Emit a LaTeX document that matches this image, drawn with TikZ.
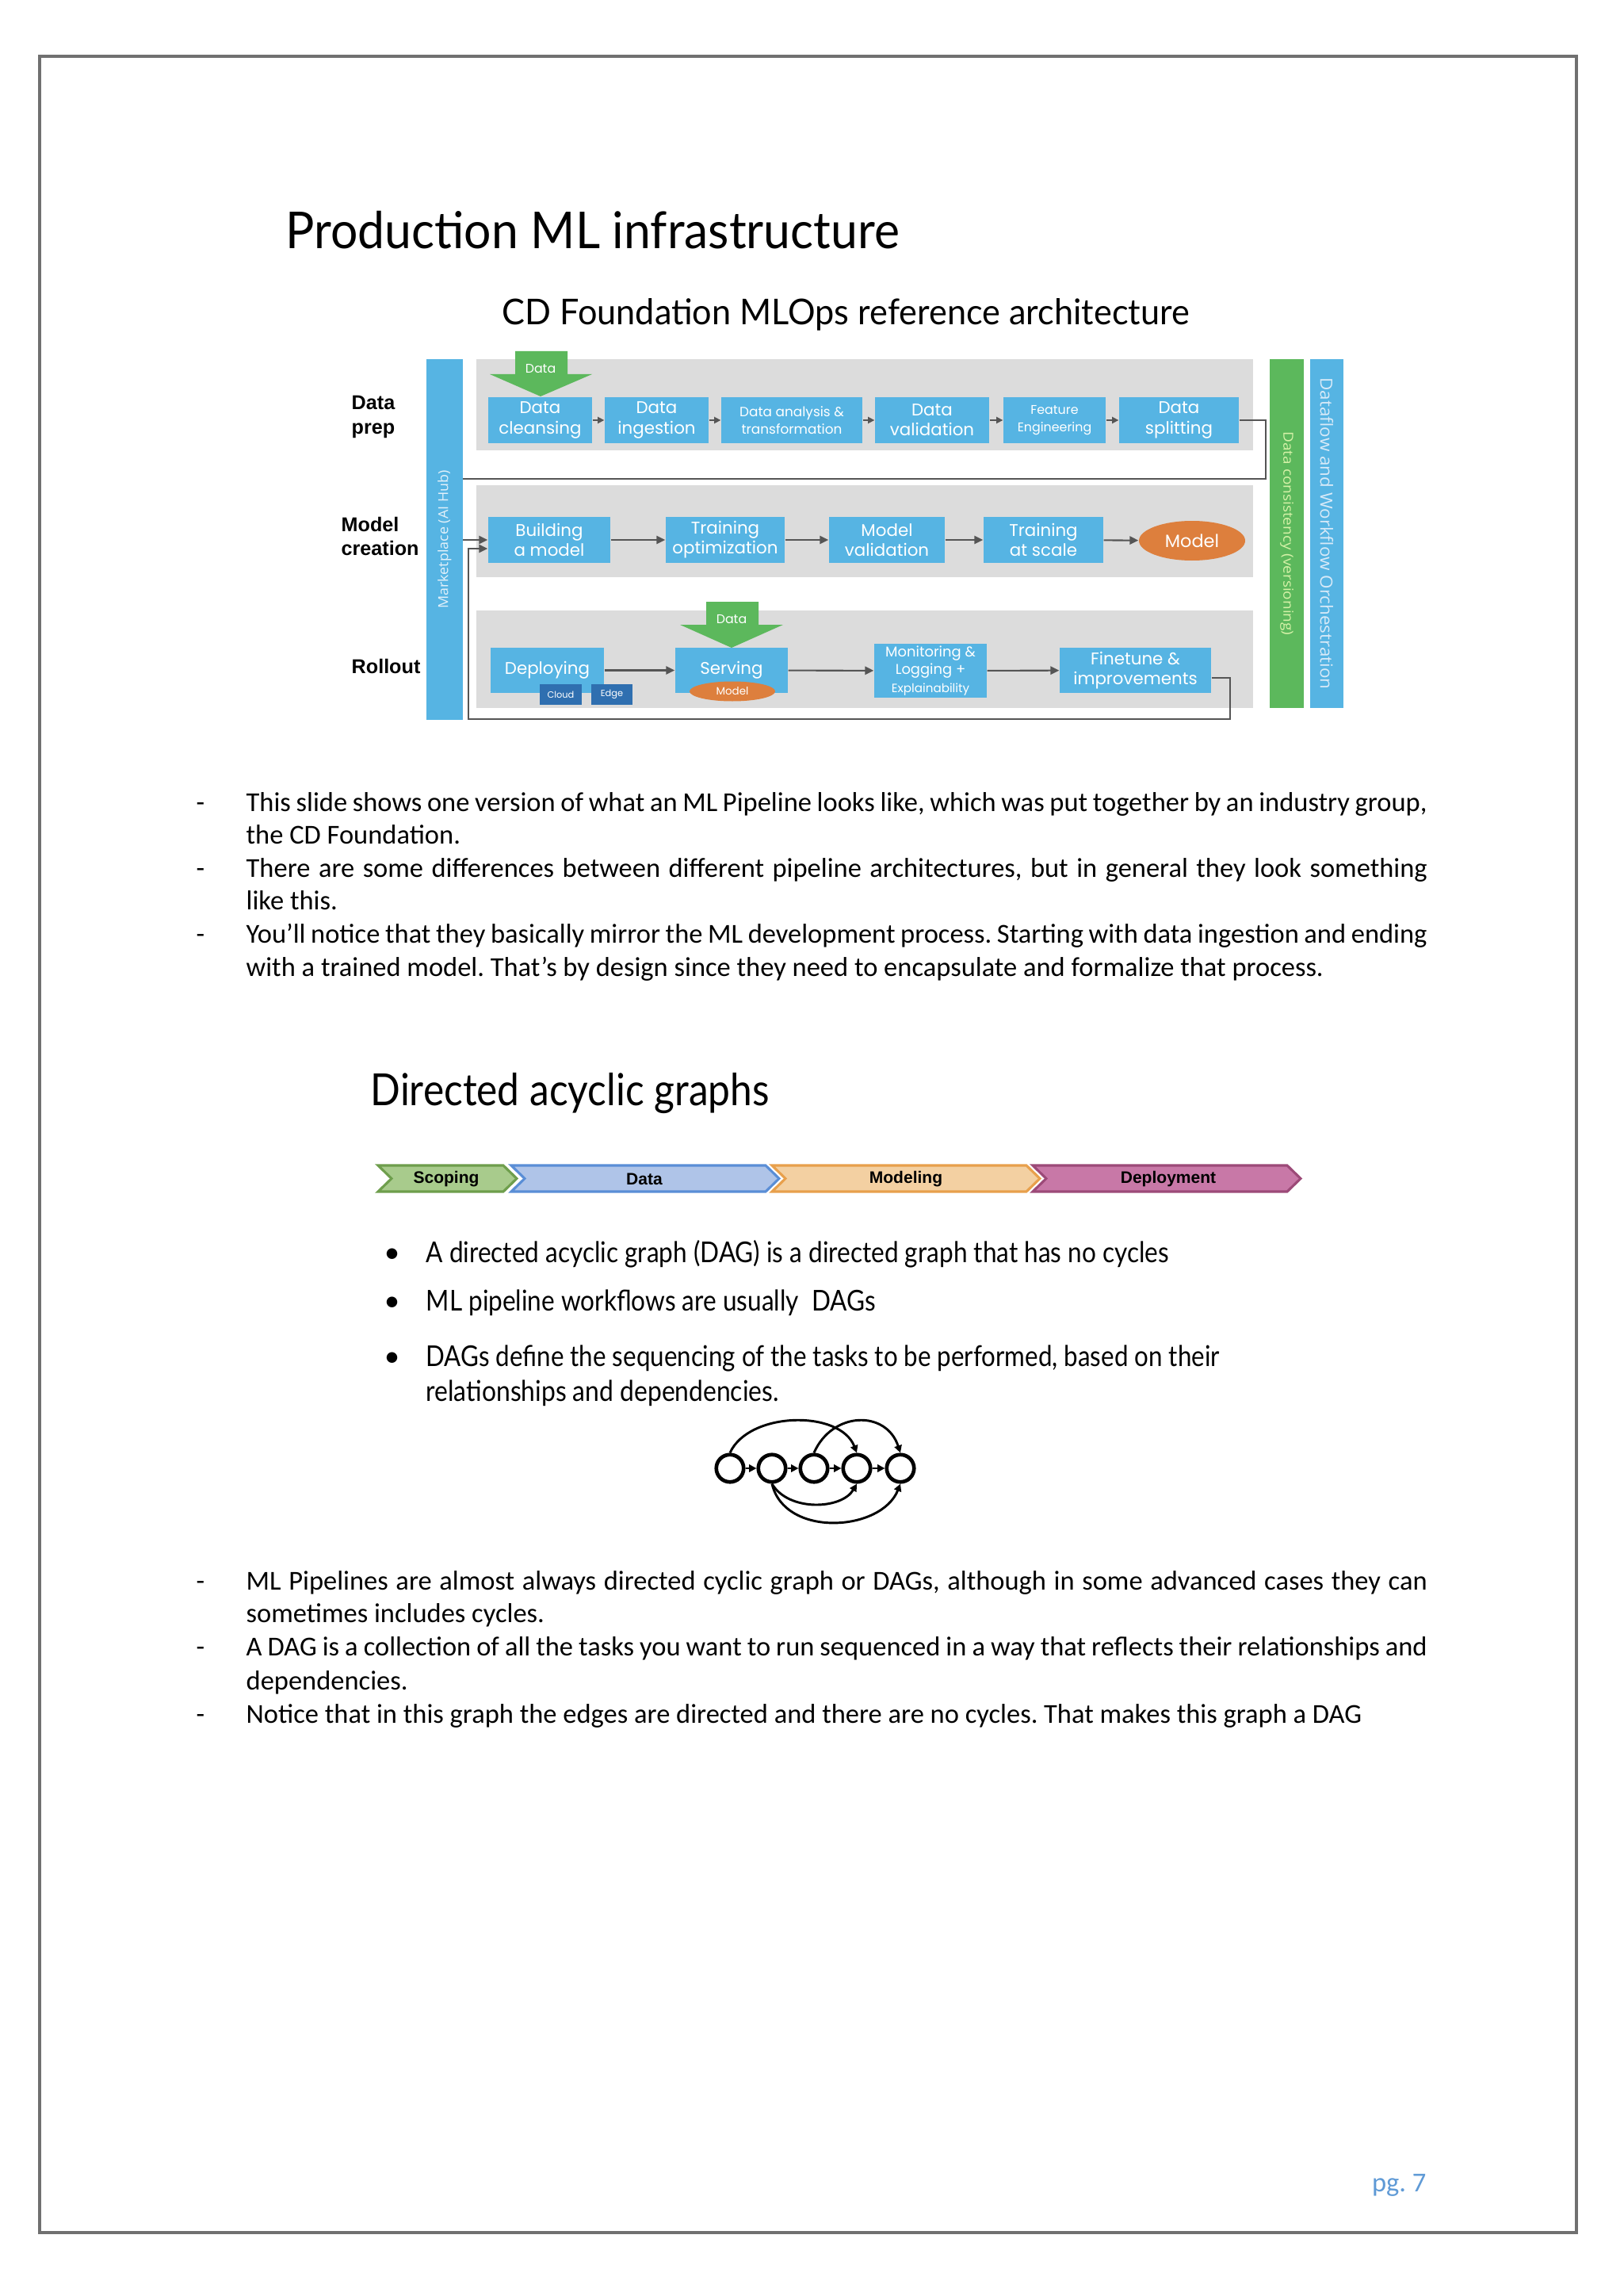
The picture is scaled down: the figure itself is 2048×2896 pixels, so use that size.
\documentclass[tikz,border=0pt]{standalone}
\usepackage{fontspec}
\setmainfont{Carlito}
\newfontfamily\latof{Lato}
\newfontfamily\popf{Poppins}
\newfontfamily\arialf{Liberation Sans}
\newfontfamily\osf{Open Sans}
\usetikzlibrary{arrows.meta,shapes.geometric}
\frenchspacing
\definecolor{boxblue}{HTML}{56B4E3}
\definecolor{panelgray}{HTML}{DCDCDC}
\definecolor{datagreen}{HTML}{5CB85C}
\definecolor{orangem}{HTML}{DD7F3D}
\definecolor{darkblue}{HTML}{2F6FB0}
\definecolor{conngray}{HTML}{555555}
\definecolor{bordergray}{HTML}{707070}
\definecolor{pgblue}{HTML}{5F9AD6}
\definecolor{scopefill}{HTML}{A8CB8C}
\definecolor{scopedraw}{HTML}{6E9E4C}
\definecolor{datafill}{HTML}{AFC4E8}
\definecolor{datadraw}{HTML}{5A8ED6}
\definecolor{modfill}{HTML}{F3D0A2}
\definecolor{moddraw}{HTML}{E8A04C}
\definecolor{depfill}{HTML}{C878A7}
\definecolor{depdraw}{HTML}{9C4A78}
\definecolor{mkttext}{HTML}{E3F1FA}
\definecolor{grntext}{HTML}{D6F2A8}
\definecolor{blutext}{HTML}{D8EAF8}
\begin{document}
\begin{tikzpicture}[x=0.29pt,y=-0.29pt,
  pxwh/.style 2 args={minimum width=#1*0.29pt,minimum height=#2*0.29pt},
  bbox/.style={fill=boxblue,text=white,inner sep=0pt,align=center,font=\popf\fontsize{6.2}{7.3}\selectfont},
  conn/.style={draw=conngray,line width=0.6pt},
  arr/.style={conn,-{Triangle[length=3.2pt,width=3pt]}},
  sarr/.style={conn,line width=0.5pt,-{Triangle[length=2.4pt,width=2.4pt]}},
  rowlbl/.style={font=\arialf\bfseries\fontsize{7.3}{8.8}\selectfont,align=left,anchor=west,inner sep=0pt},
  body/.style={font=\fontsize{10}{12}\selectfont,anchor=base west,inner sep=0pt},
  dashmark/.style={font=\fontsize{10}{12}\selectfont,anchor=base,inner sep=0pt},
  slidetxt/.style={anchor=base west,inner sep=0pt},
  chev/.style 2 args={fill=#1,draw=#2,line width=0.9pt,line join=miter},
  chevlbl/.style={font=\arialf\bfseries\fontsize{6.1}{7}\selectfont,inner sep=0pt},
  dagc/.style={circle,draw,line width=1.35pt,minimum size=10pt,inner sep=0pt},
  dagarr/.style={line width=0.85pt,-{Triangle[length=2.7pt,width=2.7pt]}},
  greenarrow/.style={fill=datagreen}
]
\useasboundingbox (0,0) rectangle (2048,2896);
\fill[white] (0,0) rectangle (2048,2896);
\draw[bordergray,line width=1.16pt] (50,71) rectangle (1989,2816);

% ---------- slide 1 ----------
\node[slidetxt] (t1) at (360,314) {\latof\fontsize{18.6}{22}\selectfont\resizebox{224.5pt}{\height}{Production ML infrastructure}};
\node[slidetxt] (t2) at (633,410) {\latof\fontsize{13}{16}\selectfont\resizebox{251.4pt}{\height}{CD Foundation MLOps reference architecture}};

\node[rowlbl] (lprep) at (443,526) {Data\\prep};
\node[rowlbl] (lmodel) at (430,676.5) {Model\\creation};
\node[rowlbl] (lroll) at (443,840) {Rollout};

\fill[panelgray] (601,453) rectangle (1581,568);
\fill[panelgray] (601,612) rectangle (1581,728);
\fill[panelgray] (601,770) rectangle (1581,893);

% row 1
\node[bbox,pxwh={131}{58}] (clean) at (681.5,530) {Data\\cleansing};
\node[bbox,pxwh={131}{58}] (ingest) at (828.5,530) {Data\\ingestion};
\node[bbox,pxwh={178}{58},font=\popf\fontsize{4.9}{6.3}\selectfont] (anal) at (999,530) {Data analysis \&\\transformation};
\node[bbox,pxwh={144}{58}] (valid) at (1176,530) {Data\\validation};
\node[bbox,pxwh={129}{58},font=\popf\fontsize{4.6}{6.3}\selectfont] (feat) at (1330.5,530) {Feature\\Engineering};
\node[bbox,pxwh={151}{58}] (split) at (1487.5,530) {Data\\splitting};
\draw[sarr] (clean) -- (ingest);
\draw[sarr] (ingest) -- (anal);
\draw[sarr] (anal) -- (valid);
\draw[sarr] (valid) -- (feat);
\draw[sarr] (feat) -- (split);
\fill[greenarrow] (650,443) -- (716,443) -- (716,472) -- (747,472) -- (682,500) -- (618,472) -- (650,472) -- cycle;
\node[text=white,font=\popf\fontsize{4.6}{5}\selectfont,inner sep=0pt] (dataA) at (682,465) {Data};

% row 2
\node[bbox,pxwh={154}{58}] (build) at (693,681) {Building\\a model};
\node[bbox,pxwh={150}{58}] (trop) at (915,681) {Training\\optimization};
\node[bbox,pxwh={146}{58}] (mval) at (1119,681) {Model\\validation};
\node[bbox,pxwh={151}{58}] (tscale) at (1316.5,681) {Training\\at scale};
\node[ellipse,fill=orangem,text=white,inner sep=0pt,pxwh={134}{50},font=\popf\fontsize{6.5}{7}\selectfont] (model) at (1504,682) {Model};
\draw[arr] (build) -- (trop);
\draw[arr] (trop) -- (mval);
\draw[arr] (mval) -- (tscale);
\draw[arr] (tscale) -- (model);

% row 3
\node[bbox,pxwh={143}{57}] (deploy) at (690.5,845.5) {Deploying};
\node[fill=darkblue,text=white,inner sep=0pt,pxwh={53}{26},font=\popf\fontsize{3.3}{4}\selectfont] (cloud) at (707.5,876) {Cloud};
\node[fill=darkblue,text=white,inner sep=0pt,pxwh={52}{26},font=\popf\fontsize{3.3}{4}\selectfont] (edge) at (772,876) {Edge};
\node[bbox,pxwh={142}{57}] (serve) at (923,845.5) {Serving};
\node[ellipse,fill=orangem,text=white,inner sep=0pt,pxwh={108}{25},font=\popf\fontsize{3.9}{4}\selectfont] (smodel) at (924,872) {Model};
\node[bbox,pxwh={142}{68},font=\popf\fontsize{5.2}{6.6}\selectfont] (monit) at (1174,846) {Monitoring \&\\Logging +\\{\fontsize{4.4}{6}\selectfont Explainability}};
\node[bbox,pxwh={191}{57}] (fine) at (1432.5,845.5) {Finetune \&\\improvements};
\draw[arr] (deploy) -- (serve);
\draw[arr] (serve) -- (monit);
\draw[arr] (monit) -- (fine);
\fill[greenarrow] (891,759) -- (957,759) -- (957,788) -- (988,788) -- (923,817) -- (858,788) -- (891,788) -- cycle;
\node[text=white,font=\popf\fontsize{4.6}{5}\selectfont,inner sep=0pt] (dataB) at (923,781) {Data};

% feedback connectors (behind the marketplace bar)
\coordinate (k1) at (1597,604);
\coordinate (k2) at (560,681);
\coordinate (k3) at (1552,907);
\coordinate (k4) at (591,692);
\draw[arr] (split.east) -| (k1) -| (k2) -- (build.west);
\draw[arr] (fine.east |- 0,855) -| (k3) -| (k4) -- (build.west |- 0,692);

% vertical bars
\node[fill=boxblue,rotate=90,inner sep=0pt,minimum width=455*0.29pt,minimum height=46*0.29pt,text=mkttext,font=\osf\fontsize{5}{6}\selectfont] (mkt) at (561,680.5) {\resizebox{50.5pt}{\height}{Marketplace (AI Hub)}};
\node[fill=datagreen,rotate=-90,inner sep=0pt,minimum width=440*0.29pt,minimum height=43*0.29pt,text=grntext,font=\osf\fontsize{5}{6}\selectfont] (consist) at (1623.5,673) {\resizebox{74.5pt}{\height}{Data consistency (versioning)}};
\node[fill=boxblue,rotate=-90,inner sep=0pt,minimum width=440*0.29pt,minimum height=42*0.29pt,text=blutext,font=\osf\fontsize{6.2}{7}\selectfont] (orch) at (1674,673) {\resizebox{114pt}{\height}{Dataflow and Workflow Orchestration}};

% ---------- body text 1 ----------
\node[dashmark] (d1) at (253,1023) {-};
\node[body] (p1a) at (310,1023) {\makebox[432.1pt][s]{This slide shows one version of what an ML Pipeline looks like, which was put together by an industry group,}};
\node[body] (p1b) at (310,1064) {the CD Foundation.};
\node[dashmark] (d2) at (253,1106) {-};
\node[body] (p2a) at (310,1106) {\makebox[432.1pt][s]{There are some differences between different pipeline architectures, but in general they look something}};
\node[body] (p2b) at (310,1147) {like this.};
\node[dashmark] (d3) at (253,1189) {-};
\node[body] (p3a) at (310,1189) {\makebox[432.1pt][s]{You'll notice that they basically mirror the ML development process. Starting with data ingestion and ending}};
\node[body] (p3b) at (310,1231) {with a trained model. That's by design since they need to encapsulate and formalize that process.};

% ---------- slide 2 ----------
\node[slidetxt] (t3) at (467,1394) {\latof\fontsize{16.2}{20}\selectfont\resizebox{145.9pt}{\height}{Directed acyclic graphs}};

\path[chev={depfill}{depdraw}] (1303,1470) -- (1624,1470) -- (1641,1486.5) -- (1624,1503) -- (1303,1503) -- (1320,1486.5) -- cycle;
\path[chev={modfill}{moddraw}] (974,1470) -- (1295,1470) -- (1312,1486.5) -- (1295,1503) -- (974,1503) -- (991,1486.5) -- cycle;
\path[chev={datafill}{datadraw}] (645,1470) -- (966,1470) -- (983,1486.5) -- (966,1503) -- (645,1503) -- (662,1486.5) -- cycle;
\path[chev={scopefill}{scopedraw}] (477,1470) -- (635,1470) -- (652,1486.5) -- (635,1503) -- (477,1503) -- (494,1486.5) -- cycle;
\node[chevlbl] (lscope) at (563,1487) {Scoping};
\node[chevlbl] (ldata) at (813,1487) {Data};
\node[chevlbl] (lmodeling) at (1143,1487) {Modeling};
\node[chevlbl] (ldeploy) at (1474,1487) {Deployment};

\node[slidetxt,anchor=base] (b1) at (495,1592) {\latof\fontsize{10.5}{12}\selectfont •};
\node[slidetxt] (s1) at (537,1592) {\latof\fontsize{10.5}{12}\selectfont\resizebox{271.7pt}{\height}{A directed acyclic graph (DAG) is a directed graph that has no cycles}};
\node[slidetxt,anchor=base] (b2) at (495,1653) {\latof\fontsize{10.5}{12}\selectfont •};
\node[slidetxt] (s2) at (537,1653) {\latof\fontsize{10.5}{12}\selectfont\resizebox{164.4pt}{\height}{ML pipeline workflows are usually\ \ DAGs}};
\node[slidetxt,anchor=base] (b3) at (495,1723) {\latof\fontsize{10.5}{12}\selectfont •};
\node[slidetxt] (s3) at (537,1723) {\latof\fontsize{10.5}{12}\selectfont\resizebox{290.3pt}{\height}{DAGs define the sequencing of the tasks to be performed, based on their}};
\node[slidetxt] (s4) at (537,1767) {\latof\fontsize{10.5}{12}\selectfont\resizebox{129.1pt}{\height}{relationships and dependencies.}};

\node[dagc] (c1) at (921,1852) {};
\node[dagc] (c2) at (974,1852) {};
\node[dagc] (c3) at (1027,1852) {};
\node[dagc] (c4) at (1081,1852) {};
\node[dagc] (c5) at (1136,1852) {};
\draw[dagarr] (c1) -- (c2);
\draw[dagarr] (c2) -- (c3);
\draw[dagarr] (c3) -- (c4);
\draw[dagarr] (c4) -- (c5);
\draw[dagarr] (c1.north) .. controls (945,1780) and (1060,1778) .. (c4.north);
\draw[dagarr] (c3.north) .. controls (1050,1780) and (1118,1778) .. (c5.north);
\draw[dagarr] (c2.south) .. controls (995,1907) and (1062,1904) .. (c4.south);
\draw[dagarr] (c2.south) .. controls (990,1940) and (1112,1932) .. (c5.south);

% ---------- body text 2 ----------
\node[dashmark] (d4) at (253,2005) {-};
\node[body] (q1a) at (310,2005) {\makebox[432.1pt][s]{ML Pipelines are almost always directed cyclic graph or DAGs, although in some advanced cases they can}};
\node[body] (q1b) at (310,2046) {sometimes includes cycles.};
\node[dashmark] (d5) at (253,2088) {-};
\node[body] (q2a) at (310,2088) {\makebox[432.1pt][s]{A DAG is a collection of all the tasks you want to run sequenced in a way that reflects their relationships and}};
\node[body] (q2b) at (310,2131) {dependencies.};
\node[dashmark] (d6) at (253,2173) {-};
\node[body] (q3a) at (310,2173) {Notice that in this graph the edges are directed and there are no cycles. That makes this graph a DAG};

\node[font=\fontsize{10}{12}\selectfont,text=pgblue,anchor=base east,inner sep=0pt] (pg) at (1800,2764) {pg. 7};
\end{tikzpicture}
\end{document}
